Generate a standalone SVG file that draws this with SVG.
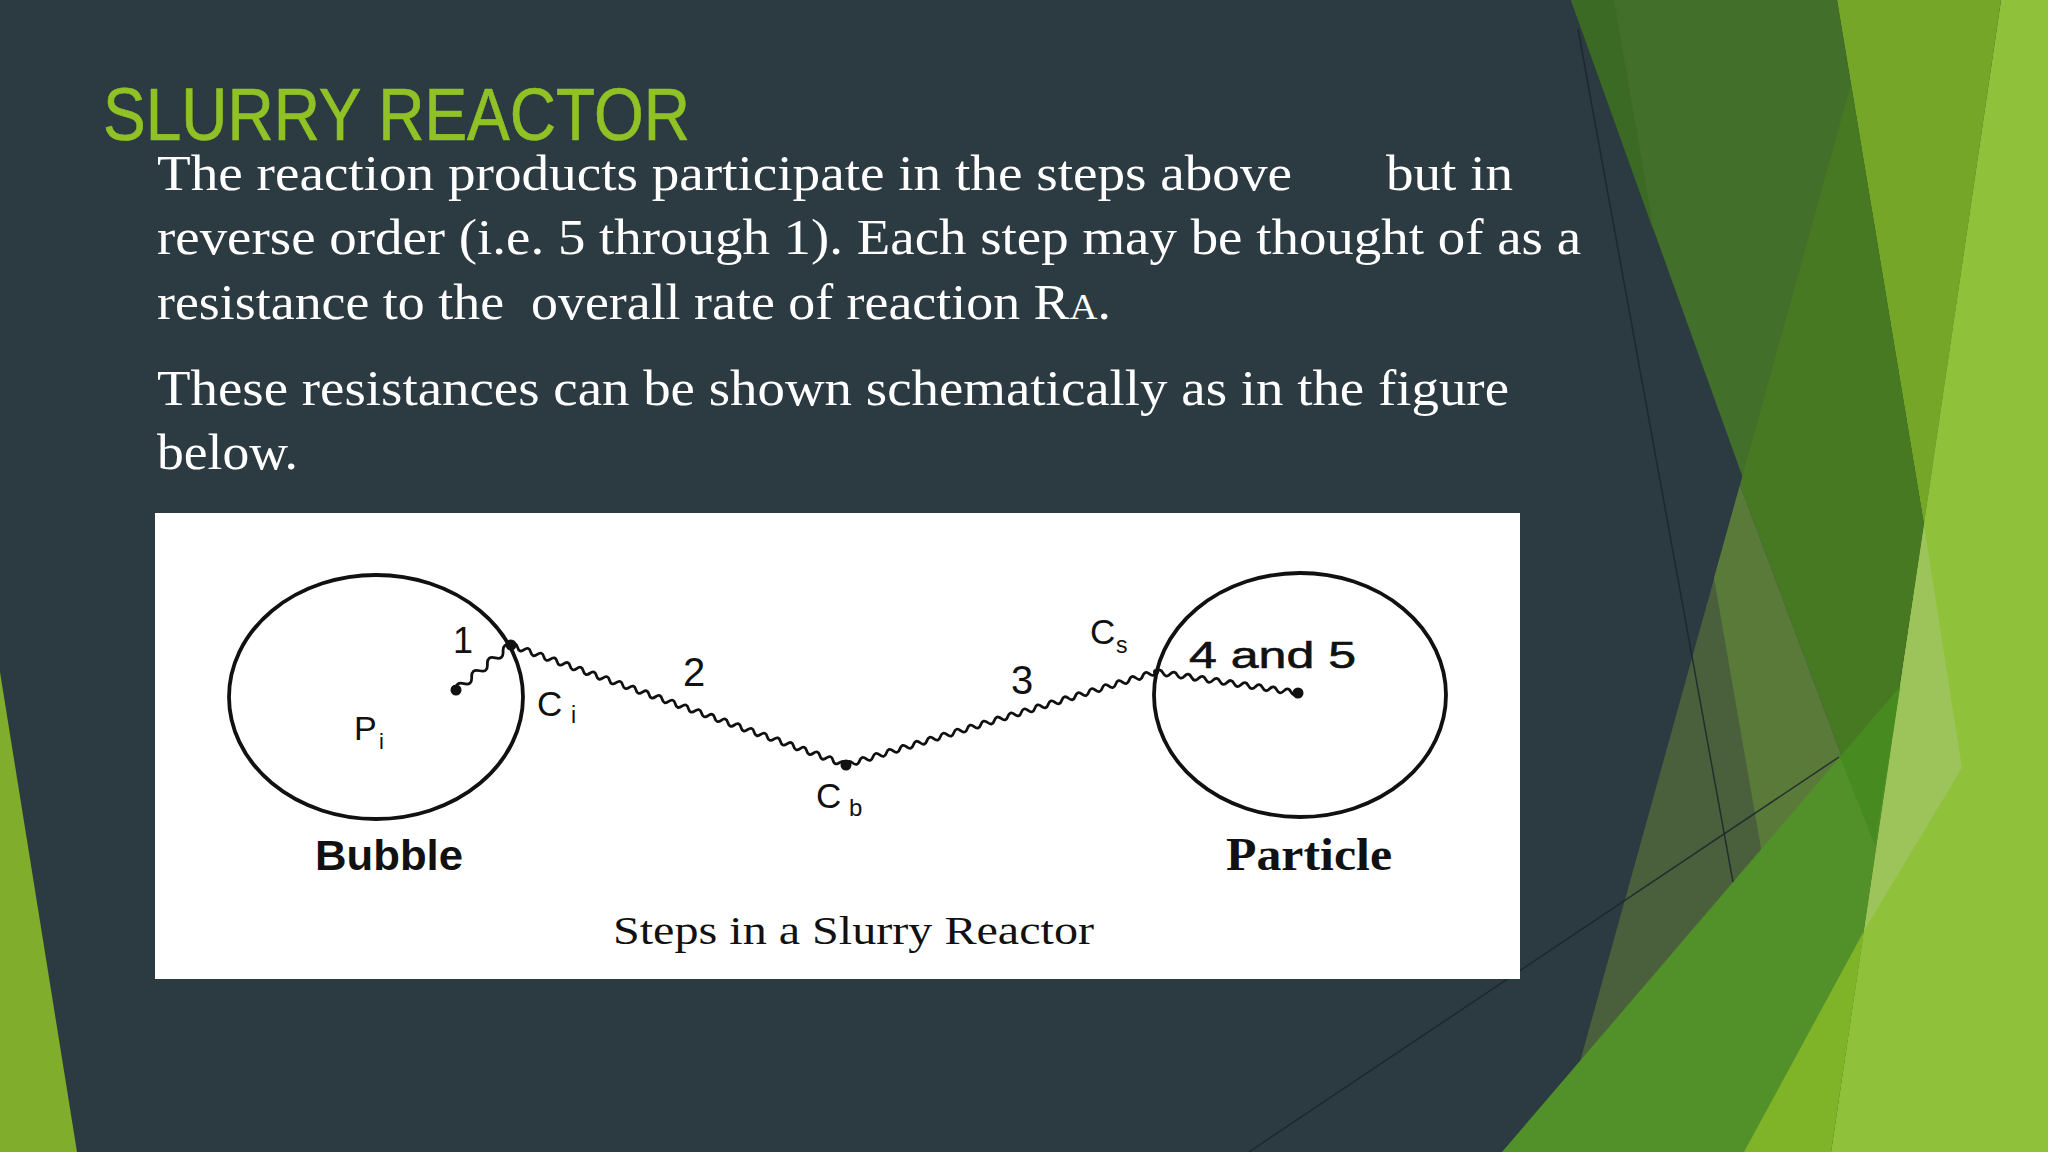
<svg xmlns="http://www.w3.org/2000/svg" width="2048" height="1152" viewBox="0 0 2048 1152">
<style>
.body{font-family:"Liberation Serif","Times New Roman",serif;font-size:50px;fill:#ffffff}
.lbl{font-family:"Liberation Sans",Arial,sans-serif;fill:#111111}
.wave{fill:none;stroke:#111111;stroke-width:2.8;stroke-linejoin:round}
.ring{fill:none;stroke:#111111;stroke-width:3.8}
.dot{fill:#111111}
.thin{stroke:#1b262b;stroke-width:1.5;fill:none;opacity:0.85}
</style>
<g id="background">
<rect x="0" y="0" width="2048" height="1152" fill="#2c3a41"/>
<polygon points="0,672 77,1152 0,1152" fill="#80ad2b"/>
<polygon points="2001,0 2048,0 2048,1152 1831,1152" fill="#8fc13a"/>
<polygon points="1837,0 2001,0 1924,525" fill="#76a628"/>
<polygon points="1571,0 1837,0 1924,525 1875,845" fill="#42702a"/>
<polygon points="1571,0 1614,0 1654,232" fill="#3a6a24"/>
<polygon points="1851,84 1924,525 1875,845 1740,485" fill="#477923"/>
<polygon points="1740,485 1875,845 1863,933 1744,1152 1555,1152" fill="#4a603c"/>
<polygon points="1714,578 1740,485 1875,845 1863,933 1797,1055" fill="#5a7a3a"/>
<polygon points="1924,525 1962,768 1864,931" fill="#9cc45a"/>
<polygon points="1502,1152 1900,687 1831,1152" fill="#52902a"/>
<polygon points="1840,757 1900,687 1875,845" fill="#468a20"/>
<polygon points="1864,931 1831,1152 1744,1152" fill="#80b428"/>
<line class="thin" x1="1578" y1="29" x2="1733" y2="882"/>
<line class="thin" x1="1249" y1="1152" x2="1839" y2="757"/>
</g>
<g id="title">
<text x="103" y="140" font-family="'Liberation Sans',Arial,sans-serif" font-size="75" fill="#90c226" stroke="#90c226" stroke-width="0.7" textLength="587" lengthAdjust="spacingAndGlyphs">SLURRY REACTOR</text>
</g>
<g id="body-text">
<text class="body" x="157" y="190" textLength="1135" lengthAdjust="spacingAndGlyphs">The reaction products participate in the steps above</text>
<text class="body" x="1386" y="190" textLength="127" lengthAdjust="spacingAndGlyphs">but in</text>
<text class="body" x="157" y="254" textLength="1424" lengthAdjust="spacingAndGlyphs">reverse order (i.e. 5 through 1). Each step may be thought of as a</text>
<text class="body" x="157" y="319" textLength="954" lengthAdjust="spacingAndGlyphs" xml:space="preserve">resistance to the  overall rate of reaction R<tspan font-size="36">A</tspan>.</text>
<text class="body" x="157" y="405" textLength="1352" lengthAdjust="spacingAndGlyphs">These resistances can be shown schematically as in the figure</text>
<text class="body" x="157" y="469" textLength="141" lengthAdjust="spacingAndGlyphs">below.</text>
</g>
<g id="figure">
<rect x="155" y="513" width="1365" height="466" fill="#ffffff"/>
<g id="connectors">
<path class="wave" transform="translate(456,690) rotate(-39.3)" d="M0,0 q5.07,-7 10.14,0 t10.14,0 t10.14,0 t10.14,0 t10.14,0 t10.14,0 t10.14,0"/>
<path class="wave" transform="translate(511,645) rotate(19.7)" d="M0,0 q3.49,-5 6.98,0 t6.98,0 t6.98,0 t6.98,0 t6.98,0 t6.98,0 t6.98,0 t6.98,0 t6.98,0 t6.98,0 t6.98,0 t6.98,0 t6.98,0 t6.98,0 t6.98,0 t6.98,0 t6.98,0 t6.98,0 t6.98,0 t6.98,0 t6.98,0 t6.98,0 t6.98,0 t6.98,0 t6.98,0 t6.98,0 t6.98,0 t6.98,0 t6.98,0 t6.98,0 t6.98,0 t6.98,0 t6.98,0 t6.98,0 t6.98,0 t6.98,0 t6.98,0 t6.98,0 t6.98,0 t6.98,0 t6.98,0 t6.98,0 t6.98,0 t6.98,0 t6.98,0 t6.98,0 t6.98,0 t6.98,0 t6.98,0 t6.98,0 t6.98,0"/>
<path class="wave" transform="translate(846,765) rotate(-16.7)" d="M0,0 q3.52,-5 7.04,0 t7.04,0 t7.04,0 t7.04,0 t7.04,0 t7.04,0 t7.04,0 t7.04,0 t7.04,0 t7.04,0 t7.04,0 t7.04,0 t7.04,0 t7.04,0 t7.04,0 t7.04,0 t7.04,0 t7.04,0 t7.04,0 t7.04,0 t7.04,0 t7.04,0 t7.04,0 t7.04,0 t7.04,0 t7.04,0 t7.04,0 t7.04,0 t7.04,0 t7.04,0 t7.04,0 t7.04,0 t7.04,0 t7.04,0 t7.04,0 t7.04,0 t7.04,0 t7.04,0 t7.04,0 t7.04,0 t7.04,0 t7.04,0 t7.04,0 t7.04,0 t7.04,0 t7.04,0"/>
<path class="wave" transform="translate(1156,672) rotate(8.4)" d="M0,0 q3.59,-5 7.18,0 t7.18,0 t7.18,0 t7.18,0 t7.18,0 t7.18,0 t7.18,0 t7.18,0 t7.18,0 t7.18,0 t7.18,0 t7.18,0 t7.18,0 t7.18,0 t7.18,0 t7.18,0 t7.18,0 t7.18,0 t7.18,0 t7.18,0"/>
</g>
<g id="bubble">
<ellipse class="ring" cx="376" cy="697" rx="147" ry="122"/>
<circle class="dot" cx="456" cy="690" r="5.5"/>
<text class="lbl" x="354" y="740" font-size="34">P</text>
<text class="lbl" x="379" y="749" font-size="22">i</text>
<text class="lbl" x="463" y="653" font-size="36" text-anchor="middle">1</text>
<text class="lbl" x="315" y="870" font-size="42" font-weight="bold" textLength="148" lengthAdjust="spacingAndGlyphs">Bubble</text>
</g>
<g id="point-ci">
<circle class="dot" cx="511" cy="645" r="5.5"/>
<text class="lbl" x="537" y="716" font-size="35">C</text>
<text class="lbl" x="571" y="723" font-size="23">i</text>
</g>
<g id="label-2">
<text class="lbl" x="694" y="686" font-size="40" text-anchor="middle">2</text>
</g>
<g id="point-cb">
<circle class="dot" cx="846" cy="765" r="5.5"/>
<text class="lbl" x="816" y="808" font-size="35">C</text>
<text class="lbl" x="849" y="816" font-size="24">b</text>
</g>
<g id="label-3">
<text class="lbl" x="1022" y="694" font-size="40" text-anchor="middle">3</text>
</g>
<g id="point-cs">
<circle class="dot" cx="1156" cy="672" r="3"/>
<text class="lbl" x="1090" y="644" font-size="35">C</text>
<text class="lbl" x="1116" y="653" font-size="23">s</text>
</g>
<g id="particle">
<ellipse class="ring" cx="1300" cy="695" rx="146" ry="122"/>
<circle class="dot" cx="1298" cy="693" r="5.5"/>
<text class="lbl" x="1189" y="668" font-size="36" stroke="#111111" stroke-width="0.6" textLength="167" lengthAdjust="spacingAndGlyphs">4 and 5</text>
<text x="1226" y="870" font-family="'Liberation Serif','Times New Roman',serif" font-size="46" font-weight="bold" fill="#111111" textLength="166" lengthAdjust="spacingAndGlyphs">Particle</text>
</g>
<g id="caption">
<text x="613" y="944" font-family="'Liberation Serif','Times New Roman',serif" font-size="40" fill="#111111" textLength="481" lengthAdjust="spacingAndGlyphs">Steps in a Slurry Reactor</text>
</g>
</g>
</svg>
